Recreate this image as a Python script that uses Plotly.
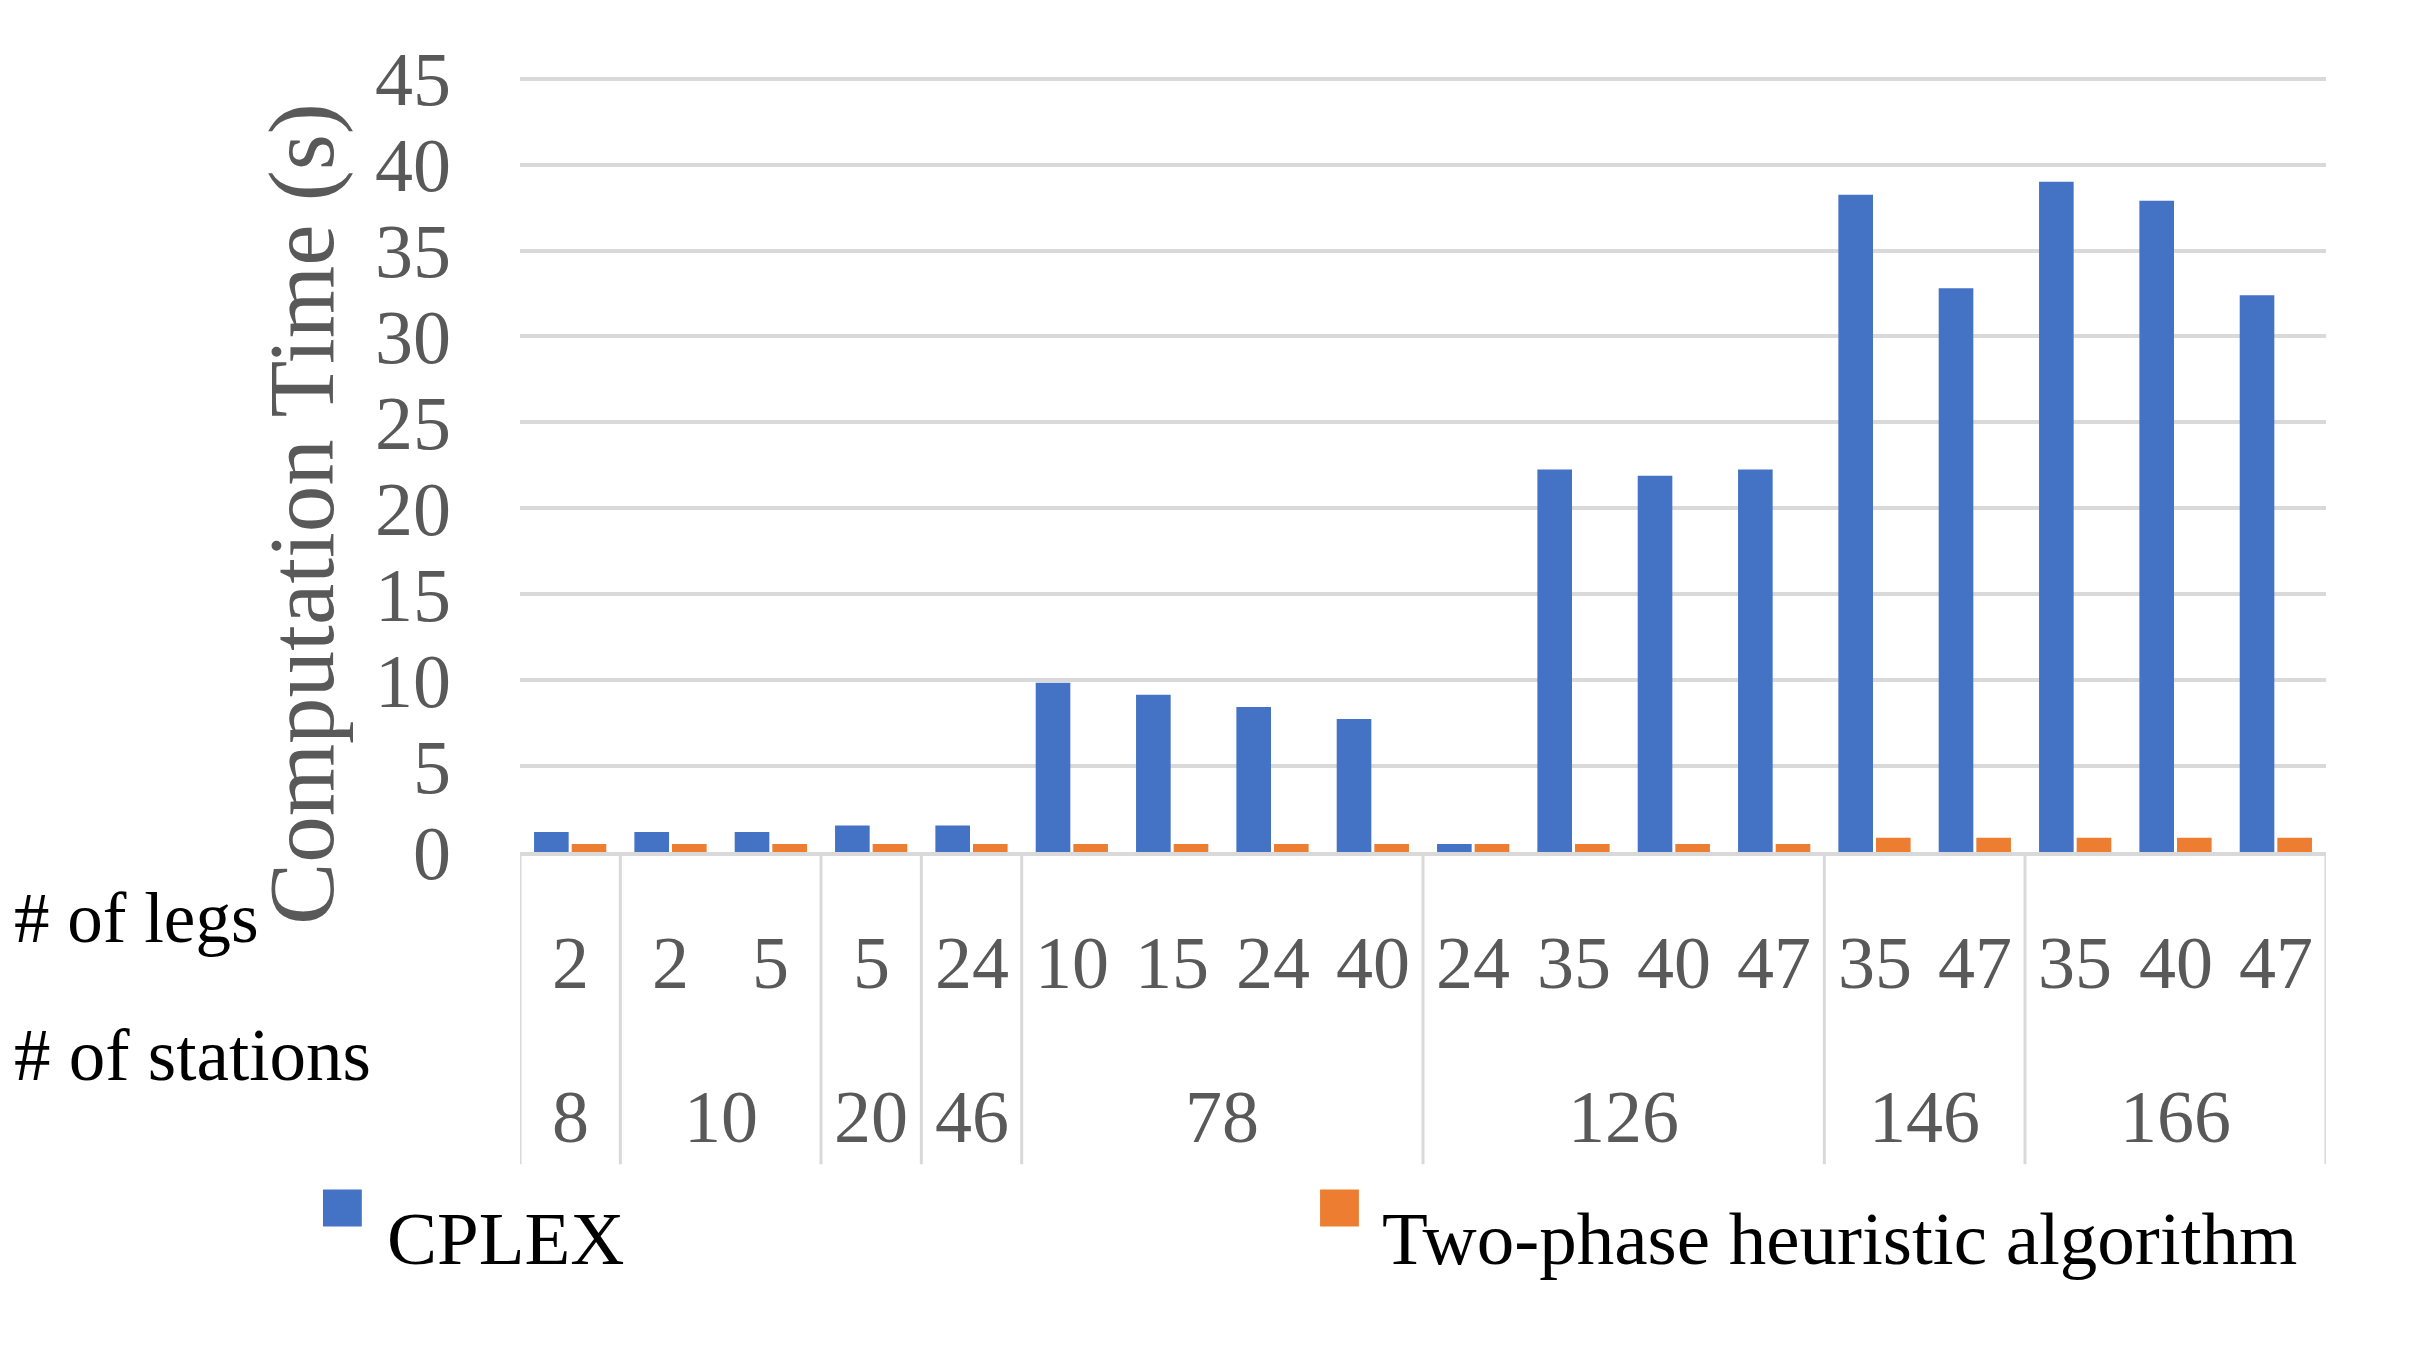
import plotly.graph_objects as go

# ---- data ----
legs = [2, 2, 5, 5, 24, 10, 15, 24, 40, 24, 35, 40, 47, 35, 47, 35, 40, 47]
stations = [8, 10, 10, 20, 46, 78, 78, 78, 78, 126, 126, 126, 126, 146, 146, 166, 166, 166]
cplex = [1.17, 1.17, 1.17, 1.54, 1.54, 9.85, 9.15, 8.44, 7.74, 0.47,
         22.26, 21.9, 22.26, 38.25, 32.8, 39.0, 37.9, 32.4]
heuristic = [0.47, 0.47, 0.47, 0.47, 0.47, 0.47, 0.47, 0.47, 0.47, 0.47,
             0.47, 0.47, 0.47, 0.83, 0.83, 0.83, 0.83, 0.83]
y_ticks = [0, 5, 10, 15, 20, 25, 30, 35, 40, 45]
series_names = ["CPLEX", "Two-phase heuristic algorithm"]
row_titles = ["# of legs", "# of stations"]
y_title = "Computation Time (s)"

BLUE = "#4472C4"
ORANGE = "#ED7D31"
GRID = "#D9D9D9"
TXT = "#595959"
SERIF = "Liberation Serif, Times New Roman, serif"

keys = [f"{s}/{l}" for s, l in zip(stations, legs)]
n = len(keys)

fig = go.Figure()
fig.add_bar(x=keys, y=cplex, name=series_names[0], marker_color=BLUE, marker_line_width=0)
fig.add_bar(x=keys, y=heuristic, name=series_names[1], marker_color=ORANGE, marker_line_width=0)

annotations = []
shapes = []

# legs row labels (inner level)
for i, l in enumerate(legs):
    annotations.append(dict(x=i, y=-0.1434, xref="x", yref="paper", text=str(l),
                            showarrow=False, xanchor="center", yanchor="middle",
                            font=dict(family=SERIF, size=74, color=TXT)))

# station groups (outer level) + dividers
groups = []
start = 0
for i in range(1, n + 1):
    if i == n or stations[i] != stations[start]:
        groups.append((stations[start], start, i - 1))
        start = i
bounds = [-0.5] + [g[2] + 0.5 for g in groups]
for b in bounds:
    shapes.append(dict(type="line", xref="x", yref="paper", x0=b, x1=b, y0=0, y1=-0.403,
                       line=dict(color=GRID, width=3)))
for s, a, b in groups:
    annotations.append(dict(x=(a + b) / 2, y=-0.3424, xref="x", yref="paper", text=str(s),
                            showarrow=False, xanchor="center", yanchor="middle",
                            font=dict(family=SERIF, size=74, color=TXT)))

# row headers
annotations.append(dict(x=-0.2813, y=-0.0853, xref="paper", yref="paper", text=row_titles[0],
                        showarrow=False, xanchor="left", yanchor="middle",
                        font=dict(family=SERIF, size=71, color="black")))
annotations.append(dict(x=-0.2813, y=-0.262, xref="paper", yref="paper", text=row_titles[1],
                        showarrow=False, xanchor="left", yanchor="middle",
                        font=dict(family=SERIF, size=73, color="black")))

# y axis title
annotations.append(dict(x=-0.121, y=0.437, xref="paper", yref="paper", text=y_title,
                        showarrow=False, textangle=-90, xanchor="center", yanchor="middle",
                        font=dict(family=SERIF, size=93, color=TXT)))

# legend (drawn to match the large square keys)
legend_items = [(series_names[0], BLUE, -0.1091, -0.0748),
                (series_names[1], ORANGE, 0.4430, 0.4762)]
for name, col, xs, xt in legend_items:
    shapes.append(dict(type="rect", xref="paper", yref="paper", x0=xs, x1=xs + 0.0215,
                       y0=-0.4832, y1=-0.4354, fillcolor=col, line=dict(width=0)))
    annotations.append(dict(x=xt, y=-0.4987, xref="paper", yref="paper", text=name,
                            showarrow=False, xanchor="left", yanchor="middle",
                            font=dict(family=SERIF, size=75, color="black")))

fig.update_layout(
    width=2412, height=1355,
    margin=dict(l=520, r=86, t=77, b=503),
    paper_bgcolor="white", plot_bgcolor="white",
    barmode="group", bargap=0.25, bargroupgap=0.08,
    showlegend=False,
    annotations=annotations, shapes=shapes,
    xaxis=dict(type="category", showticklabels=False, ticks="", showgrid=False,
               showline=True, linecolor=GRID, linewidth=4, range=[-0.5, n - 0.5]),
    yaxis=dict(range=[0, 45.1], tickmode="array", tickvals=y_ticks, ticks="",
               showgrid=True, gridcolor=GRID, gridwidth=4, zeroline=False, showline=False,
               tickfont=dict(family=SERIF, size=76, color=TXT), ticklabelstandoff=68),
)

fig.write_html("out.html", config={"displayModeBar": False},
               post_script="document.body.style.margin='0';document.body.style.overflow='hidden';")
